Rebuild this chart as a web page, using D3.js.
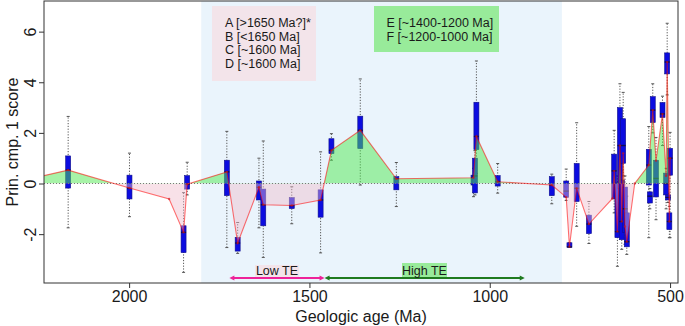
<!DOCTYPE html>
<html><head><meta charset="utf-8">
<script src="https://cdn.jsdelivr.net/npm/d3@7"></script>
<style>
body{margin:0;background:#fff}
svg{display:block}
text{font-family:"Liberation Sans",Arial,Helvetica,sans-serif;fill:#1a1a1a}
</style>
</head><body><svg id="c" width="685" height="326"></svg>
<script>
// ---------- data ----------
const ageTicks = [2000, 1500, 1000, 500];
const scoreTicks = [-2, 0, 2, 4, 6];

// box-plot groups: age (Ma), lower whisker, Q1, median, Q3, upper whisker
const boxAge = [2169, 1999, 1849, 1839, 1729, 1699, 1640, 1628, 1549, 1469, 1439, 1359, 1259,
  1045, 1041, 1037, 978, 828, 788, 779, 759, 725,
  655, 646, 639, 634, 630, 625, 620, 559, 556, 548, 539, 521, 511, 508, 506, 502, 500];
const boxWlo = [-1.75, -1.31, -3.51, -0.45, -2.53, -2.76, -1.75, -2.92, -1.59, -2.74, 0.92, -0.06, -0.91,
  -0.52, -0.45, 0.40, -0.38, -0.80, -0.67, -2.52, -1.69, -2.37,
  -1.16, -3.27, -0.50, -2.60, 0.30, -2.40, -2.80, -2.14, -1.00, 2.00, -1.43, 1.50, -1.00, 3.50, -0.75, -2.14, -2.14];
const boxQ1 = [-0.18, -0.61, -2.73, -0.22, -0.48, -2.67, -0.65, -1.67, -0.99, -1.33, 1.18, 1.38, -0.25,
  -0.06, -0.37, 1.34, -0.10, -0.48, -0.54, -2.52, -0.71, -1.98,
  -0.61, -2.14, -0.20, -2.22, 0.80, -1.94, -2.50, -0.06, -0.77, 2.41, -0.53, 2.61, -0.45, 4.33, -0.65, -1.82, 0.33];
const boxMed = [0.53, -0.18, -1.93, -0.03, 0.46, -2.35, -0.15, -0.84, -0.87, -0.65, 1.31, 2.10, 0.19,
  0.23, 0.30, 1.86, 0.07, -0.06, -0.30, -2.50, -0.19, -1.60,
  0.50, -1.90, 1.50, -1.50, 1.50, -1.00, -2.30, 0.73, -0.50, 2.90, 0.20, 2.75, 0.00, 4.80, -0.55, -1.50, 1.00];
const boxQ3 = [1.09, 0.33, -1.67, 0.31, 0.92, -2.13, 0.10, -0.22, -0.56, -0.25, 1.77, 2.66, 0.27,
  0.33, 1.00, 3.21, 0.31, 0.27, 0.10, -2.34, 0.79, -1.25,
  1.16, 0.02, 3.00, 0.14, 2.56, -0.14, -1.16, 1.35, -0.33, 3.43, 0.92, 3.20, 0.41, 5.16, -0.45, -1.16, 1.39];
const boxWhi = [2.65, 1.20, -0.36, 0.84, 2.06, -1.54, 1.00, 1.68, -0.13, 1.25, 1.97, 4.13, 0.83,
  0.60, 1.30, 4.84, 0.79, 0.37, 0.57, -2.34, 2.40, -0.71,
  2.10, 0.30, 3.94, 0.50, 3.60, 0.30, -0.50, 2.25, -0.20, 3.94, 1.82, 3.45, 0.60, 6.33, -0.40, -0.90, 2.02];

// mean-score trace
const lineAge = [2240, 2169, 1999, 1889, 1849, 1839, 1729, 1699, 1640, 1628, 1549, 1469, 1439, 1359, 1259,
  1045, 1037, 978, 828, 788, 779, 759, 725, 659, 655, 646, 639, 634, 630, 625, 620, 598,
  559, 548, 539, 521, 511, 508, 502, 500];
const lineScore = [0.30, 0.53, -0.18, -0.61, -1.93, -0.03, 0.46, -2.35, -0.15, -0.84, -0.87, -0.65, 1.31, 2.10, 0.19,
  0.23, 1.86, 0.07, -0.06, -0.54, -2.50, -0.19, -1.60, -0.58, 0.50, -1.90, 1.50, -1.50, 1.20, -1.70, -2.30, 0.00,
  0.73, 2.90, 0.90, 2.75, 0.30, 4.80, -1.50, 1.00];

const bandAges = [1800, 800];
const lowTE = [1722, 1458];
const highTE = [1458, 903];
const legendLow = ["A [>1650 Ma?]*", "B [<1650 Ma]", "C [~1600 Ma]", "D [~1600 Ma]"];
const legendHigh = ["E [~1400-1200 Ma]", "F [~1200-1000 Ma]"];
const xTitle = "Geologic age (Ma)";
const yTitle = "Prin. cmp. 1 score";

// ---------- layout ----------
const L = 44, R = 678, T = 1, B = 283;
const x = d3.scaleLinear().domain([2236, 478]).range([L, R]);
const y = d3.scaleLinear().domain([-3.93, 7.21]).range([B, T]);
const svg = d3.select("#c");
const defs = svg.append("defs");
defs.append("clipPath").attr("id", "plot").append("rect").attr("x", L).attr("y", T).attr("width", R - L).attr("height", B - T);
defs.append("clipPath").attr("id", "above").append("rect").attr("x", L).attr("y", T).attr("width", R - L).attr("height", y(0) - T);
defs.append("clipPath").attr("id", "below").append("rect").attr("x", L).attr("y", y(0)).attr("width", R - L).attr("height", B - y(0));

const pinkBg = "#f3e4ea", greenBg = "#98eb9a";

// band
svg.append("rect").attr("x", x(bandAges[0])).attr("y", T).attr("width", x(bandAges[1]) - x(bandAges[0])).attr("height", B - T).attr("fill", "#eaf4fc");

// legends
const lg = svg.append("g");
lg.append("rect").attr("x", 212).attr("y", 6).attr("width", 104).attr("height", 75).attr("fill", pinkBg);
lg.append("rect").attr("x", 374).attr("y", 6).attr("width", 125).attr("height", 46).attr("fill", greenBg);
legendLow.forEach((t, i) => lg.append("text").attr("x", 225).attr("y", 27.3 + i * 13.4).attr("font-size", 12.5).text(t));
legendHigh.forEach((t, i) => lg.append("text").attr("x", 386.5).attr("y", 27.3 + i * 13.4).attr("font-size", 12.5).text(t));

const pg = svg.append("g").attr("clip-path", "url(#plot)");
const boxes = boxAge.map((a, i) => ({a, lo: boxWlo[i], q1: boxQ1[i], md: boxMed[i], q3: boxQ3[i], hi: boxWhi[i]}));
const bw = 5;
// whiskers
boxes.forEach(d => {
  const cx = x(d.a);
  pg.append("line").attr("x1", cx).attr("x2", cx).attr("y1", y(d.lo)).attr("y2", y(d.hi))
    .attr("stroke", "#555").attr("stroke-width", 1).attr("stroke-dasharray", "1.2,1.6");
  [d.lo, d.hi].forEach(v => pg.append("line").attr("x1", cx - 1.5).attr("x2", cx + 1.5).attr("y1", y(v)).attr("y2", y(v))
    .attr("stroke", "#555").attr("stroke-width", 1));
});
// boxes
boxes.forEach(d => {
  const cx = x(d.a);
  pg.append("rect").attr("x", cx - bw / 2).attr("y", y(d.q3)).attr("width", bw).attr("height", Math.max(1, y(d.q1) - y(d.q3)))
    .attr("fill", "#0c0ce0").attr("stroke", "#10108a").attr("stroke-width", 0.6);
  pg.append("line").attr("x1", cx - bw / 2).attr("x2", cx + bw / 2).attr("y1", y(d.md)).attr("y2", y(d.md))
    .attr("stroke", "#101050").attr("stroke-width", 1.4);
});

// fills
const pts = lineAge.map((a, i) => ({a, v: lineScore[i]}));
const area = d3.area().x(d => x(d.a)).y0(y(0)).y1(d => y(d.v));
pg.append("g").attr("clip-path", "url(#above)").append("path").attr("d", area(pts)).attr("fill", "rgb(80,232,80)").attr("fill-opacity", 0.5);
pg.append("g").attr("clip-path", "url(#below)").append("path").attr("d", area(pts)).attr("fill", "rgb(240,188,204)").attr("fill-opacity", 0.45);

// zero line
pg.append("line").attr("x1", L).attr("x2", R).attr("y1", y(0)).attr("y2", y(0))
  .attr("stroke", "#777").attr("stroke-width", 1).attr("stroke-dasharray", "1,2");

// trace
const line = d3.line().x(d => x(d.a)).y(d => y(d.v));
pg.append("path").attr("d", line(pts)).attr("fill", "none").attr("stroke", "rgb(255,0,0)").attr("stroke-opacity", 0.55).attr("stroke-width", 1.1);
pg.selectAll("circle.p").data(pts).join("circle").attr("cx", d => x(d.a)).attr("cy", d => y(d.v)).attr("r", 1.2)
  .attr("fill", "rgb(200,20,30)").attr("fill-opacity", 0.6);

// TE arrows
function arrow(a0, a1, yy, color) {
  const x0 = x(a0), x1 = x(a1);
  svg.append("line").attr("x1", x0 + 3).attr("x2", x1 - 3).attr("y1", yy).attr("y2", yy).attr("stroke", color).attr("stroke-width", 2);
  svg.append("path").attr("d", `M${x0},${yy}L${x0 + 5},${yy - 2.6}L${x0 + 5},${yy + 2.6}Z`).attr("fill", color);
  svg.append("path").attr("d", `M${x1},${yy}L${x1 - 5},${yy - 2.6}L${x1 - 5},${yy + 2.6}Z`).attr("fill", color);
}
arrow(lowTE[0], lowTE[1], 278, "#ee2299");
arrow(highTE[0], highTE[1], 278, "#1f7a1f");
svg.append("rect").attr("x", 255).attr("y", 265).attr("width", 44).attr("height", 12).attr("fill", pinkBg);
svg.append("text").attr("x", 277).attr("y", 275).attr("text-anchor", "middle").attr("font-size", 12.5).text("Low TE");
svg.append("rect").attr("x", 402).attr("y", 263).attr("width", 45).attr("height", 14).attr("fill", greenBg);
svg.append("text").attr("x", 424.5).attr("y", 274.5).attr("text-anchor", "middle").attr("font-size", 12.5).text("High TE");

// frame
svg.append("rect").attr("x", L).attr("y", T).attr("width", R - L).attr("height", B - T).attr("fill", "none").attr("stroke", "#333").attr("stroke-width", 1);

// axes
const xa = svg.append("g").attr("transform", `translate(0,${B})`)
  .call(d3.axisBottom(x).tickValues(ageTicks).tickSize(5).tickPadding(3).tickFormat(d3.format("d")));
xa.select(".domain").remove();
xa.selectAll("line").attr("stroke", "#333");
xa.selectAll("text").attr("font-size", 16).attr("fill", "#1a1a1a");

const ya = svg.append("g").attr("transform", `translate(${L},0)`)
  .call(d3.axisLeft(y).tickValues(scoreTicks).tickSize(5).tickFormat(d => d));
ya.select(".domain").remove();
ya.selectAll("line").attr("stroke", "#333");
ya.selectAll("text").attr("font-size", 16).attr("fill", "#1a1a1a")
  .attr("x", null).attr("dy", null).attr("text-anchor", "middle")
  .attr("transform", "translate(-14,0) rotate(-90) translate(0,5.5)");

svg.append("text").attr("x", 361).attr("y", 322).attr("text-anchor", "middle").attr("font-size", 16).text(xTitle);
svg.append("text").attr("transform", "translate(18,142) rotate(-90)").attr("text-anchor", "middle").attr("font-size", 16).text(yTitle);
</script>
</body></html>
